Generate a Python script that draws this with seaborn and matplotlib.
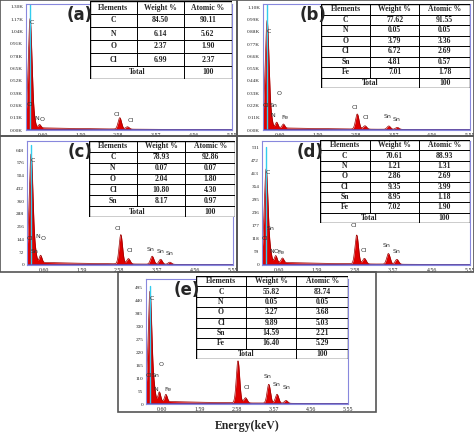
import numpy as np
import pandas as pd
import matplotlib
matplotlib.use("Agg")
import matplotlib.pyplot as plt
import seaborn as sns
from matplotlib.patches import Rectangle

sns.set_theme(style="white")
plt.rcParams['font.family'] = ['DejaVu Sans']

W, H = 474, 432
panels = ["a", "b", "c", "d", "e"]
yticks = {
    "a": ["0.00K","0.13K","0.26K","0.39K","0.52K","0.65K","0.78K","0.91K","1.04K","1.17K","1.30K"],
    "b": ["0.00K","0.11K","0.22K","0.33K","0.44K","0.55K","0.66K","0.77K","0.88K","0.99K","1.10K"],
    "c": ["0","72","144","216","288","360","432","504","576","648"],
    "d": ["0","59","118","177","236","295","354","413","472","531"],
    "e": ["0","55","110","165","220","275","330","385","440","495"],
}
ystep = {"a": 130, "b": 110, "c": 72, "d": 59, "e": 55}
ymax = {"a": 1330, "b": 1130, "c": 700, "d": 560, "e": 530}
xticks = [0.60, 1.59, 2.58, 3.57, 4.56, 5.55]
peaks = {
    "a": [(0.277, 1150), (0.39, 60), (0.525, 35), (2.62, 120), (2.82, 25)],
    "b": [(0.277, 960), (0.39, 60), (0.525, 50), (0.70, 35), (2.62, 135), (2.82, 30), (3.44, 30), (3.66, 18)],
    "c": [(0.277, 610), (0.39, 45), (0.525, 40), (2.62, 165), (2.82, 30), (3.44, 45), (3.66, 28), (3.9, 12)],
    "d": [(0.277, 420), (0.39, 35), (0.525, 30), (0.70, 20), (2.62, 130), (2.82, 25), (3.44, 48), (3.66, 22)],
    "e": [(0.277, 465), (0.39, 45), (0.525, 40), (0.70, 30), (2.62, 178), (2.82, 22), (3.44, 80), (3.66, 38), (3.9, 12)],
}
baseline = {"a": 28, "b": 24, "c": 18, "d": 15, "e": 14}
cyan_top = {"a": 1330, "b": 1130, "c": 680, "d": 531, "e": 500}
labels = {
    "a": [("C", 0.33, 1120), ("Cl", 0.27, 250), ("N", 0.44, 110), ("O", 0.6, 100), ("Cl", 2.55, 145), ("Cl", 2.9, 85)],
    "b": [("C", 0.33, 870), ("O", 0.58, 310), ("Cl", 0.25, 210), ("Sn", 0.45, 210), ("N", 0.42, 120), ("Fe", 0.75, 95),
          ("Cl", 2.55, 185), ("Cl", 2.85, 95), ("Sn", 3.4, 110), ("Sn", 3.65, 85)],
    "c": [("C", 0.33, 580), ("Cl", 0.25, 140), ("N", 0.44, 150), ("O", 0.58, 140), ("Sn", 0.38, 65),
          ("Cl", 2.55, 200), ("Cl", 2.85, 75), ("Sn", 3.4, 80), ("Sn", 3.65, 65), ("Sn", 3.9, 55)],
    "d": [("C", 0.33, 410), ("Sn", 0.38, 160), ("Cl", 0.25, 115), ("N", 0.42, 55), ("O", 0.53, 55), ("Fe", 0.66, 50),
          ("Cl", 2.55, 170), ("Cl", 2.8, 60), ("Sn", 3.4, 80), ("Sn", 3.65, 55)],
    "e": [("C", 0.33, 440), ("O", 0.58, 160), ("Cl", 0.25, 115), ("Sn", 0.42, 115), ("N", 0.44, 55), ("Fe", 0.75, 55),
          ("Cl", 2.55, 215), ("Cl", 2.85, 65), ("Sn", 3.4, 110), ("Sn", 3.65, 75), ("Sn", 3.92, 65)],
}
tables = {
    "a": [("C","84.50","90.11"),("N","6.14","5.62"),("O","2.37","1.90"),("Cl","6.99","2.37")],
    "b": [("C","77.62","91.55"),("N","0.05","0.05"),("O","3.79","3.36"),("Cl","6.72","2.69"),("Sn","4.81","0.57"),("Fe","7.01","1.78")],
    "c": [("C","78.93","92.86"),("N","0.07","0.07"),("O","2.04","1.80"),("Cl","10.80","4.30"),("Sn","8.17","0.97")],
    "d": [("C","70.61","88.93"),("N","1.21","1.31"),("O","2.86","2.69"),("Cl","9.35","3.99"),("Sn","8.95","1.18"),("Fe","7.02","1.90")],
    "e": [("C","55.82","83.74"),("N","0.05","0.05"),("O","3.27","3.68"),("Cl","9.89","5.03"),("Sn","14.59","2.21"),("Fe","16.40","5.29")],
}

L = {
    "a": dict(outer=(0, 0, 237, 136), ax=(26, 4, 232, 130), tab=(90, 1, 232, 79), lab=(80, 15)),
    "b": dict(outer=(237, 0, 474, 136), ax=(263, 4, 470, 130), tab=(321, 4, 470, 88), lab=(313, 15)),
    "c": dict(outer=(0, 136, 237, 272), ax=(27, 141, 233, 265), tab=(89, 141, 235, 217), lab=(80, 152)),
    "d": dict(outer=(237, 136, 474, 272), ax=(262, 141, 470, 265), tab=(320, 140, 470, 223), lab=(310, 152)),
    "e": dict(outer=(118, 272, 376, 412), ax=(146, 279, 348, 404), tab=(196, 276, 348, 359), lab=(187, 290)),
}

fig = plt.figure(figsize=(W/100, H/100), dpi=100)
for p in panels:
    x0, y0, x1, y1 = L[p]["outer"]
    fig.patches.append(Rectangle((x0/W, 1-y1/H), (x1-x0)/W, (y1-y0)/H, transform=fig.transFigure,
                                 fill=False, edgecolor="#555555", lw=1.2))

e = np.linspace(0.1, 5.6, 1400)
for p in panels:
    x0, y0, x1, y1 = L[p]["ax"]
    ax = fig.add_axes([x0/W, 1-y1/H, (x1-x0)/W, (y1-y0)/H])
    spec = baseline[p] * np.exp(-(e-0.1)/2.5)
    for (c, h) in peaks[p]:
        s = 0.05 if c < 0.35 else (0.035 if c < 1 else 0.045)
        spec += h*np.exp(-0.5*((e-c)/s)**2)
    df = pd.DataFrame({"E": e, "I": spec})
    ax.fill_between(e, 0, spec, color="#dd0000", lw=0)
    sns.lineplot(data=df, x="E", y="I", ax=ax, color="#990000", lw=0.5)
    ax.axvline(0.277, ymax=cyan_top[p]/ymax[p], color="#33ccee", lw=1.0)
    ax.axhline(baseline[p]*0.4, color="#4455cc", lw=0.5)
    ax.set_xlim(0.17, 5.55)
    ax.set_ylim(0, ymax[p])
    ax.set_xticks(xticks)
    ax.set_xticklabels([f"{t:.2f}" for t in xticks], fontsize=4.2, family="Liberation Serif")
    yt = [i*ystep[p] for i in range(len(yticks[p]))]
    ax.set_yticks(yt)
    ax.set_yticklabels(yticks[p], fontsize=3.8, family="Liberation Serif")
    ax.tick_params(length=0, pad=2)
    ax.set_xlabel(""); ax.set_ylabel("")
    for s in ax.spines.values():
        s.set_color("#8888dd"); s.set_linewidth(0.8)
    for (t, xe, yc) in labels[p]:
        ax.text(xe, yc, t, fontsize=4.5, color="#333333", ha="center")
    if p == "e":
        ax.set_xlabel("Energy(keV)", fontsize=8.5, family="Liberation Serif", fontweight="bold", labelpad=6)

    tx0, ty0, tx1, ty1 = L[p]["tab"]
    rows = [("Elements", "Weight %", "Atomic %")] + tables[p] + [("Total", "", "100")]
    n = len(rows)
    tax = fig.add_axes([tx0/W, 1-ty1/H, (tx1-tx0)/W, (ty1-ty0)/H])
    tax.set_xlim(0, 1); tax.set_ylim(n, 0); tax.axis("off")
    tax.add_patch(Rectangle((0, 0), 1, n, facecolor="white", edgecolor="black", lw=1.0))
    cols = [0, 0.33, 0.66, 1]
    for i, r in enumerate(rows):
        if i > 0:
            tax.plot([0, 1], [i, i], color="black", lw=0.7)
        if i == n-1:
            tax.text(0.33, i+0.5, r[0], ha="center", va="center", fontsize=5.5,
                     family="Liberation Serif", fontweight="bold")
            tax.text(0.83, i+0.5, r[2], ha="center", va="center", fontsize=5.5,
                     family="Liberation Serif", fontweight="bold")
        else:
            for j in range(3):
                tax.text((cols[j]+cols[j+1])/2, i+0.5, r[j], ha="center", va="center",
                         fontsize=5.5, family="Liberation Serif", fontweight="bold")
    for j, cx in enumerate(cols[1:3]):
        tax.plot([cx, cx], [0, n-1 if j == 0 else n], color="black", lw=0.7)
    lx, ly = L[p]["lab"]
    fig.text(lx/W, 1-ly/H, f"({p})", fontsize=12, fontweight="bold", ha="center", va="center")

fig.savefig("out.png", dpi=100)
